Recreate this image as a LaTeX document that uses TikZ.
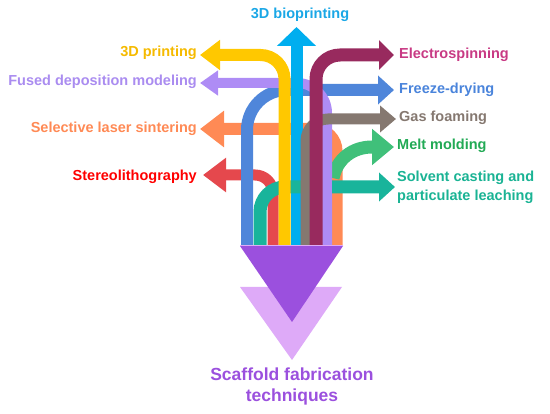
\documentclass[tikz,border=0pt]{standalone}
\usepackage{fontspec}
\setmainfont{Liberation Sans}
\usetikzlibrary{arrows.meta}
\definecolor{cBlue}{HTML}{4F86DA}
\definecolor{cMaroon}{HTML}{982A5E}
\definecolor{cYellow}{HTML}{FFC800}
\definecolor{cCyan}{HTML}{00AEEF}
\definecolor{cLav}{HTML}{AE8CF5}
\definecolor{cOrange}{HTML}{FF8A55}
\definecolor{cRed}{HTML}{E5484D}
\definecolor{cGray}{HTML}{857870}
\definecolor{cGreen}{HTML}{40C07A}
\definecolor{cTeal}{HTML}{19B49B}
\definecolor{cPurple}{HTML}{9B50DE}
\definecolor{cLight}{HTML}{DEAAF8}
\definecolor{tCyan}{HTML}{1AA7E6}
\definecolor{tYellow}{HTML}{F5BA00}
\definecolor{tLav}{HTML}{AA8CF0}
\definecolor{tOrange}{HTML}{FF8A55}
\definecolor{tRed}{HTML}{FF0000}
\definecolor{tMag}{HTML}{C83A84}
\definecolor{tBlue}{HTML}{4A84DB}
\definecolor{tGray}{HTML}{857870}
\definecolor{tGreen}{HTML}{22AA55}
\definecolor{tTeal}{HTML}{1AB394}
\begin{document}
\begin{tikzpicture}[x=1pt,y=-1pt,
  lbl/.style={font=\bfseries\fontsize{14.5}{19}\selectfont, inner sep=0pt},
  band/.style={line width=12pt, line cap=butt}]
\useasboundingbox (0,0) rectangle (550,414);
% bottom triangles
\fill[cLight] (240,287) -- (342,287) -- (292,360) -- cycle;
\fill[cPurple] (240,246) -- (343,246) -- (292,322) -- cycle;
\draw[cLight, line width=1pt] (240,245.5) -- (343,245.5);
% named ends
\coordinate (sBlue) at (247,245);
\coordinate (sTeal) at (260,245);
\coordinate (sRed) at (273,245);
\coordinate (sYellow) at (284.5,245);
\coordinate (sCyan) at (296.5,245);
\coordinate (sGray) at (306,245);
\coordinate (sMaroon) at (316,245);
\coordinate (sLav) at (327,245);
\coordinate (mLav) at (327,132);
\coordinate (sOrange) at (336.5,245);
\coordinate (sGreen) at (333,178);
\coordinate (eCyan) at (296.5,27);
\coordinate (eYellow) at (200,55);
\coordinate (eLav) at (200,83);
\coordinate (eOrange) at (200,129);
\coordinate (eRed) at (203,175);
\coordinate (eMaroon) at (394,55);
\coordinate (eBlue) at (394,90);
\coordinate (eGray) at (396,119);
\coordinate (eGreen) at (394,147);
\coordinate (eTeal) at (395,187);
% bands, back to front
\draw[band, cOrange, rounded corners=22pt, -{Triangle[width=35pt,length=24pt]}] (sOrange) |- (eOrange);
\draw[band, cRed, line width=11pt, rounded corners=18pt, -{Triangle[width=33pt,length=23pt]}] (sRed) |- (eRed);
\draw[band, cBlue, rounded corners=40pt, -{Triangle[width=28pt,length=16pt]}] (sBlue) |- (eBlue);
\draw[band, cGreen, line width=13pt, -{Triangle[width=35pt,length=22pt]}] (sGreen) to[out=78,in=180] (372,147) -- (eGreen);
\draw[band, cLav, line width=10pt, rounded corners=30pt, -{Triangle[width=24pt,length=18pt]}] (sLav) |- (eLav);
\draw[band, cCyan, -{Triangle[width=38pt,length=19pt]}] (sCyan) -- (eCyan);
\draw[band, cTeal, line width=13pt, rounded corners=25pt, -{Triangle[width=28pt,length=16pt]}] (sTeal) |- (eTeal);
\draw[band, cLav, line width=10pt] (sLav) -- (mLav);
\draw[band, cYellow, rounded corners=24pt, -{Triangle[width=29pt,length=20pt]}] (sYellow) |- (eYellow);
\draw[band, cGray, line width=11pt, rounded corners=22pt, -{Triangle[width=26pt,length=16pt]}] (sGray) |- (eGray);
\draw[band, cMaroon, line width=13pt, rounded corners=24pt, -{Triangle[width=29pt,length=15pt]}] (sMaroon) |- (eMaroon);
% labels
\node[lbl, text=tCyan] (lCyan) at (300,15) {3D bioprinting};
\node[lbl, text=tYellow, anchor=east] (lYellow) at (197,53) {3D printing};
\node[lbl, text=tLav, anchor=east] (lLav) at (197,82) {Fused deposition modeling};
\node[lbl, text=tOrange, anchor=east] (lOrange) at (197,129) {Selective laser sintering};
\node[lbl, text=tRed, anchor=east] (lRed) at (197,177) {Stereolithography};
\node[lbl, text=tMag, anchor=west] (lMaroon) at (399,55) {Electrospinning};
\node[lbl, text=tBlue, anchor=west] (lBlue) at (399,90) {Freeze-drying};
\node[lbl, text=tGray, anchor=west] (lGray) at (399,118) {Gas foaming};
\node[lbl, text=tGreen, anchor=west] (lGreen) at (397,146) {Melt molding};
\node[lbl, text=tTeal, anchor=west, align=left] (lTeal) at (397,187) {Solvent casting and\\particulate leaching};
\node[font=\bfseries\fontsize{17.5}{21}\selectfont, text=cPurple, align=center, inner sep=0pt] (lMain) at (292,386) {Scaffold fabrication\\techniques};
\end{tikzpicture}
\end{document}
